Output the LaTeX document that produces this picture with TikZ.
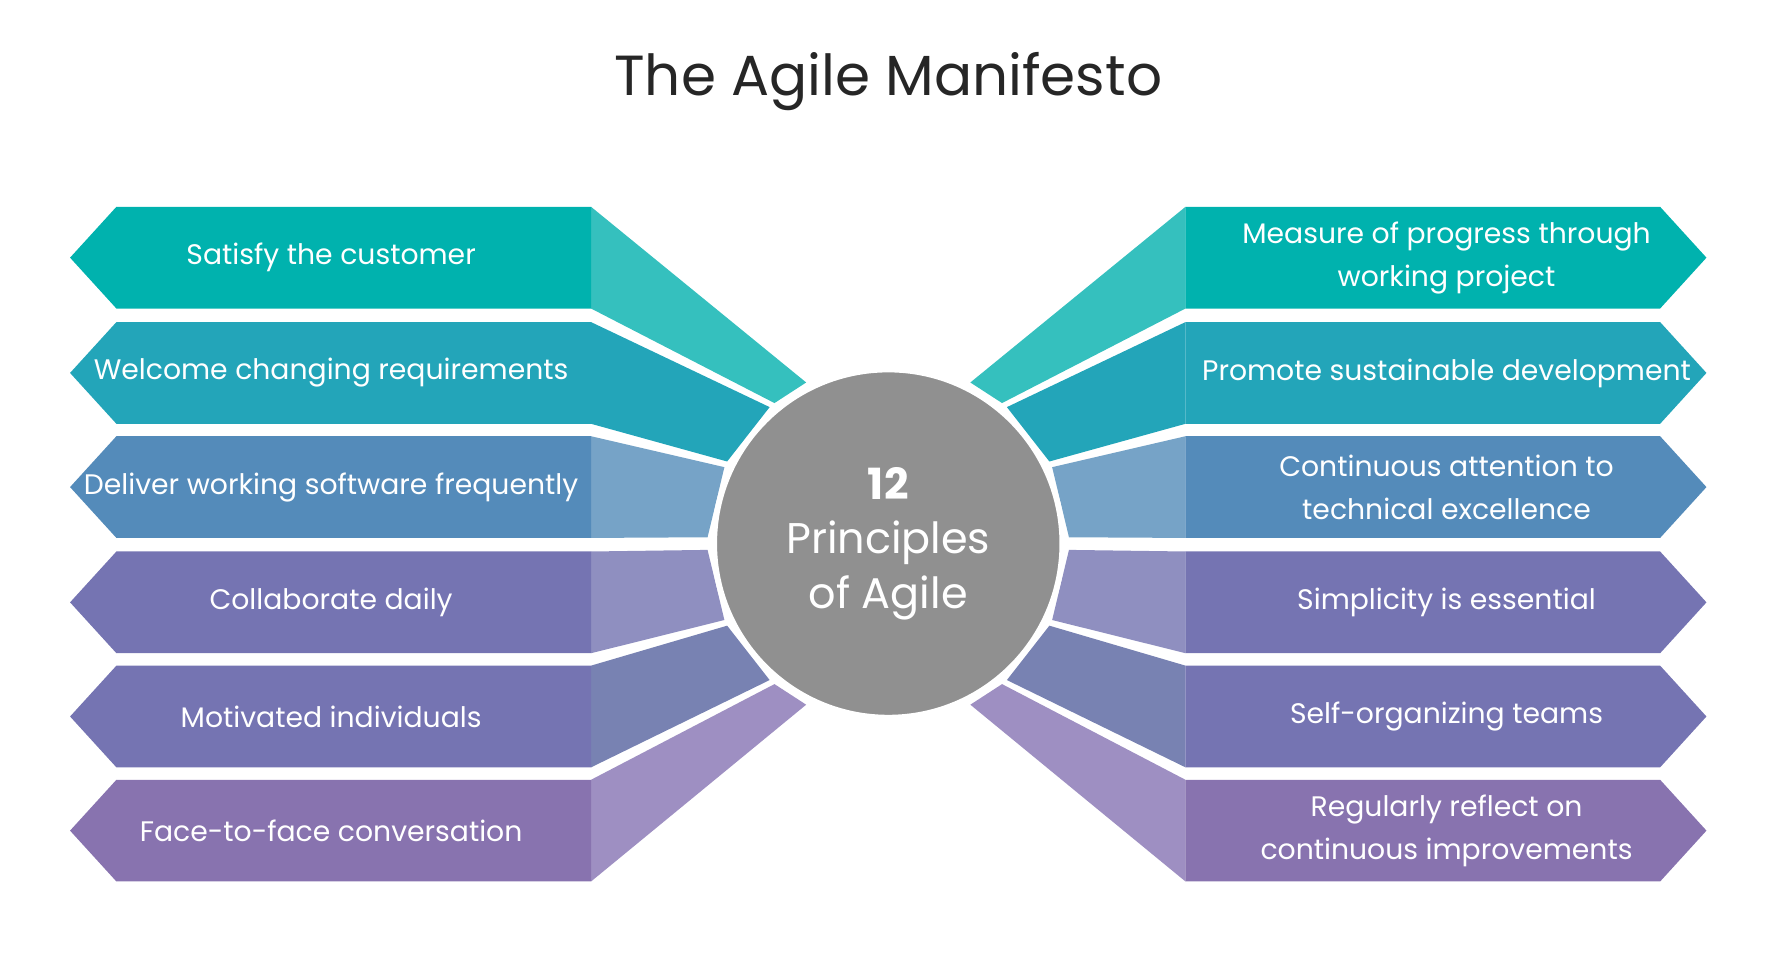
\documentclass[tikz,border=0pt]{standalone}
\usepackage{fontspec}
\setmainfont{Poppins}
\usetikzlibrary{calc}
\definecolor{rowA}{HTML}{00B2AE}\definecolor{wedgeA}{HTML}{35C0BE}
\definecolor{rowB}{HTML}{23A5B9}\definecolor{wedgeB}{HTML}{23A5B9}
\definecolor{rowC}{HTML}{548BBA}\definecolor{wedgeC}{HTML}{76A3C7}
\definecolor{rowD}{HTML}{7574B2}\definecolor{wedgeD}{HTML}{8F8FC0}
\definecolor{rowE}{HTML}{7574B2}\definecolor{wedgeE}{HTML}{7882B2}
\definecolor{rowF}{HTML}{8873AF}\definecolor{wedgeF}{HTML}{9E8FC2}
\definecolor{hub}{HTML}{909090}
\tikzset{
  label/.style={text=white, font=\fontsize{25}{38}\selectfont, align=center},
}
\begin{document}
\begin{tikzpicture}[x=1pt, y=-1pt]
    \useasboundingbox (0,0) rectangle (1568,846);
    \def\rh{45} % half height of a ribbon
    \coordinate (hubc) at (786,481);

    % Title
    \node[font=\fontsize{50}{60}\selectfont, text=black!85] (title) at (786,72) {The Agile Manifesto};

    % Wedges (behind hub): row / color / top angle / bottom angle
    \foreach \m/\c/\a/\b in {228/A/117/129, 330/B/131/153, 431/C/155/178,
                            533/D/182/205, 634/E/207/229, 735/F/231/243} {
        \fill[wedge\c] (523,\m-\rh) -- ($(hubc)+(\a:160 and -160)$) -- ($(hubc)+(\b:160 and -160)$) -- (523,\m+\rh) -- cycle;
        \fill[wedge\c] (1049,\m-\rh) -- ($(hubc)+(180-\a:160 and -160)$) -- ($(hubc)+(180-\b:160 and -160)$) -- (1049,\m+\rh) -- cycle;
    }

    % Ribbons
    \foreach \m/\c in {228/A, 330/B, 431/C, 533/D, 634/E, 735/F} {
        \fill[row\c] (62,\m) -- (103,\m-\rh) -- (523,\m-\rh) -- (523,\m+\rh) -- (103,\m+\rh) -- cycle;
        \fill[row\c] (1510,\m) -- (1469,\m-\rh) -- (1049,\m-\rh) -- (1049,\m+\rh) -- (1469,\m+\rh) -- cycle;
    }

    % Hub
    \node[circle, fill=hub, draw=white, line width=5pt, minimum size=308pt] (hub) at (hubc) {};
    \node[text=white, align=center, font=\fontsize{38}{48}\selectfont] (hubtext) at (hubc)
        {\textbf{12}\\Principles\\of Agile};

    % Labels
    \foreach \m/\l/\r [count=\i] in {
        228/{Satisfy the customer}/{Measure of progress through\\working project},
        330/{Welcome changing requirements}/{Promote sustainable development},
        431/{Deliver working software frequently}/{Continuous attention to\\technical excellence},
        533/{Collaborate daily}/{Simplicity is essential},
        634/{Motivated individuals}/{Self-organizing teams},
        735/{Face-to-face conversation}/{Regularly reflect on\\continuous improvements}} {
        \node[label] (left-\i) at (293,\m) {\l};
        \node[label] (right-\i) at (1280,\m) {\r};
    }
\end{tikzpicture}
\end{document}
